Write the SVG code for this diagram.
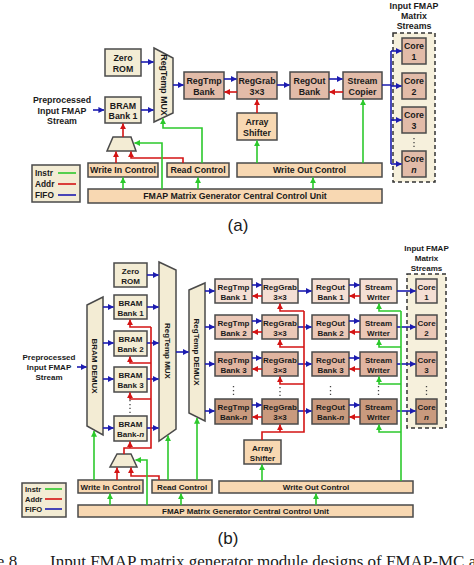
<svg xmlns="http://www.w3.org/2000/svg" width="474" height="565" viewBox="0 0 474 565">
<defs>
<marker id="mb" viewBox="0 0 8 8" refX="7.5" refY="4" markerWidth="6" markerHeight="6" markerUnits="userSpaceOnUse" orient="auto"><path d="M0,0L8,4L0,8z" fill="#1c1cb0"/></marker>
<marker id="mr" viewBox="0 0 8 8" refX="7.5" refY="4" markerWidth="6" markerHeight="6" markerUnits="userSpaceOnUse" orient="auto"><path d="M0,0L8,4L0,8z" fill="#d41414"/></marker>
<marker id="mg" viewBox="0 0 8 8" refX="7.5" refY="4" markerWidth="6" markerHeight="6" markerUnits="userSpaceOnUse" orient="auto"><path d="M0,0L8,4L0,8z" fill="#2cc92c"/></marker>
</defs>
<style>
.bx{stroke:#4a4a4a;stroke-width:1.5}
.be{fill:#f3ecd4}
.pe{fill:#f8d8b2}
.sa{fill:#e2bba8}
.r1{fill:#f4dfd4}.r2{fill:#ebc8b7}.r3{fill:#e0b4a0}.rn{fill:#c99a7e}
text{font-family:"Liberation Sans",Arial,sans-serif;font-weight:bold;fill:#1a1a1a;text-anchor:middle}
.fa{font-size:8.8px}.fb{font-size:8px}
.lg{text-anchor:start}
.cb,.cr,.cg,.lb,.lr,.lgn{fill:none;stroke-width:1.6}
.cb,.lb{stroke:#1c1cb0}.cr,.lr{stroke:#d41414}.cg,.lgn{stroke:#2cc92c}
.cb{marker-end:url(#mb)}.cr{marker-end:url(#mr)}.cg{marker-end:url(#mg)}
.dash{fill:#f6f0dc;stroke:#333;stroke-width:1.5;stroke-dasharray:4 3}
.dots{fill:none;stroke:#444;stroke-width:1.3;stroke-dasharray:1.3 2.6}
.cap{font-family:"Liberation Sans",Arial,sans-serif;font-weight:normal;font-size:17px}
.capt{font-family:"Liberation Serif","Times New Roman",serif;font-weight:normal;font-size:17px;text-anchor:start}
</style>

<!-- ================= (a) ================= -->
<g id="a-streams">
<rect class="dash" x="393" y="33" width="42" height="149"/>
<text class="fa" x="414" y="8.5">Input FMAP</text>
<text class="fa" x="414" y="18.5">Matrix</text>
<text class="fa" x="414" y="29">Streams</text>
</g>
<g id="a-input"><text class="fa" x="62" y="103">Preprocessed</text><text class="fa" x="62" y="113.5">Input FMAP</text><text class="fa" x="62" y="124">Stream</text></g>
<g id="a-zero"><rect class="bx be" x="105" y="49" width="36" height="27"/><text class="fa" x="123" y="61">Zero</text><text class="fa" x="123" y="71.5">ROM</text></g>
<g id="a-bram1"><rect class="bx be" x="105" y="97" width="36" height="26"/><text class="fa" x="123" y="108.5">BRAM</text><text class="fa" x="123" y="119">Bank 1</text></g>
<g id="a-mux"><polygon class="bx be" points="154,48 173,58 173,113 154,122"/><text class="fa" transform="translate(163.5,85) rotate(90)" y="3">RegTemp MUX</text></g>
<g id="a-sel"><polygon class="bx be" points="113,137 131,137 136,151 107,151"/></g>
<g id="a-regtmp"><rect class="bx sa" x="184" y="72" width="40" height="27"/><text class="fa" x="204" y="84">RegTmp</text><text class="fa" x="204" y="94.5">Bank</text></g>
<g id="a-reggrab"><rect class="bx sa" x="237" y="72" width="40" height="27"/><text class="fa" x="257" y="84">RegGrab</text><text class="fa" x="257" y="94.5">3×3</text></g>
<g id="a-regout"><rect class="bx sa" x="290" y="72" width="39" height="27"/><text class="fa" x="309.5" y="84">RegOut</text><text class="fa" x="309.5" y="94.5">Bank</text></g>
<g id="a-copier"><rect class="bx sa" x="343" y="72" width="39" height="27"/><text class="fa" x="362.5" y="84">Stream</text><text class="fa" x="362.5" y="94.5">Copier</text></g>
<g id="a-shifter"><rect class="bx pe" x="237" y="113" width="40" height="27"/><text class="fa" x="257" y="125">Array</text><text class="fa" x="257" y="135.5">Shifter</text></g>
<g id="a-writein"><rect class="bx pe" x="88" y="163" width="70" height="14"/><text class="fa" x="123" y="173.3">Write In Control</text></g>
<g id="a-readctl"><rect class="bx pe" x="167" y="163" width="62" height="14"/><text class="fa" x="198" y="173.3">Read Control</text></g>
<g id="a-writeout"><rect class="bx pe" x="237" y="163" width="145" height="14"/><text class="fa" x="309.5" y="173.3">Write Out Control</text></g>
<g id="a-ccu"><rect class="bx pe" x="88" y="189" width="294" height="14"/><text class="fa" x="235" y="199.3">FMAP Matrix Generator Central Control Unit</text></g>
<g id="a-core1"><rect class="bx sa" x="402" y="38" width="24" height="26"/><text class="fa" x="414" y="49">Core</text><text class="fa" x="414" y="60">1</text></g>
<g id="a-core2"><rect class="bx sa" x="402" y="73" width="24" height="26"/><text class="fa" x="414" y="84">Core</text><text class="fa" x="414" y="95">2</text></g>
<g id="a-core3"><rect class="bx sa" x="402" y="107" width="24" height="26"/><text class="fa" x="414" y="118">Core</text><text class="fa" x="414" y="129">3</text></g>
<g id="a-coren"><rect class="bx sa" x="402" y="151" width="24" height="26"/><text class="fa" x="414" y="162">Core</text><text class="fa" x="414" y="173" font-style="italic">n</text></g>
<path class="dots" d="M414,138V149"/>
<g id="a-legend"><rect class="bx be" x="32" y="165" width="48" height="37"/>
<text class="lg" font-size="8.3" x="35" y="176">Instr</text><text class="lg" font-size="8.3" x="35" y="187">Addr</text><text class="lg" font-size="8.3" x="35" y="198">FIFO</text>
<path class="lgn" d="M58,173H76"/><path class="lr" d="M58,184H76"/><path class="lb" d="M58,195H76"/></g>
<text class="cap" x="238" y="231">(a)</text>

<g id="a-connectors">
<path class="cb" d="M93,110H104"/>
<path class="cb" d="M141,62H153.5"/>
<path class="cb" d="M141,110H153.5"/>
<path class="cb" d="M173,85H183.5"/>
<path class="cb" d="M224,79H236.5"/>
<path class="cb" d="M277,85H289.5"/>
<path class="cb" d="M329,79H342.5"/>
<path class="lb" d="M382,85H391M391,51V164"/>
<path class="cb" d="M391,51H401.5"/>
<path class="cb" d="M391,86H401.5"/>
<path class="cb" d="M391,120H401.5"/>
<path class="cb" d="M391,164H401.5"/>
<path class="cr" d="M237,92H224.5"/>
<path class="cr" d="M343,92H329.5"/>
<path class="cr" d="M257,113V99.5"/>
<path class="cr" d="M123,137V123.5"/>
<path class="cr" d="M116,163V151.5"/>
<path class="cr" d="M183,163V158H131V151.5"/>
<path class="cg" d="M123,189V177.5"/>
<path class="cg" d="M198,189V177.5"/>
<path class="cg" d="M313,189V177.5"/>
<path class="cg" d="M162,189V143H134.5"/>
<path class="cg" d="M202,163V128H163V118.5"/>
<path class="cg" d="M257,163V140.5"/>
<path class="cg" d="M363,163V99.5"/>
</g>

<!-- ================= (b) ================= -->
<g id="b-streams">
<rect class="dash" x="407" y="274" width="39" height="154"/>
<text class="fb" x="426.5" y="251">Input FMAP</text>
<text class="fb" x="426.5" y="261">Matrix</text>
<text class="fb" x="426.5" y="271">Streams</text>
</g>
<g id="b-input"><text class="fb" x="49" y="360">Preprocessed</text><text class="fb" x="49" y="370">Input FMAP</text><text class="fb" x="49" y="379.5">Stream</text></g>
<g id="b-zero"><rect class="bx be" x="114" y="263" width="33" height="24"/><text class="fb" x="130.5" y="273.5">Zero</text><text class="fb" x="130.5" y="283.5">ROM</text></g>
<g id="b-bram1"><rect class="bx be" x="114" y="295" width="33" height="24"/><text class="fb" x="130.5" y="305.5">BRAM</text><text class="fb" x="130.5" y="315.5">Bank 1</text></g>
<g id="b-bram2"><rect class="bx be" x="114" y="331" width="33" height="25"/><text class="fb" x="130.5" y="341.5">BRAM</text><text class="fb" x="130.5" y="351.5">Bank 2</text></g>
<g id="b-bram3"><rect class="bx be" x="114" y="367" width="33" height="25"/><text class="fb" x="130.5" y="377.5">BRAM</text><text class="fb" x="130.5" y="387.5">Bank 3</text></g>
<g id="b-bramn"><rect class="bx be" x="114" y="416" width="33" height="25"/><text class="fb" x="130.5" y="426.5">BRAM</text><text class="fb" x="130.5" y="436.5">Bank-<tspan font-style="italic">n</tspan></text></g>
<path class="dots" d="M130,400V413"/>
<g id="b-bdemux"><polygon class="bx be" points="87,305 103,297 103,435 87,426"/><text class="fb" transform="translate(95,366) rotate(90)" y="3">BRAM DEMUX</text></g>
<g id="b-mux"><polygon class="bx be" points="159,262 176,270 176,429 159,441"/><text class="fb" transform="translate(167.5,351) rotate(90)" y="3">RegTemp MUX</text></g>
<g id="b-rdemux"><polygon class="bx be" points="189,290 205,283 205,421 189,413"/><text class="fb" transform="translate(197,352) rotate(90)" y="3">RegTemp DEMUX</text></g>
<g id="b-sel"><polygon class="bx be" points="117,454 131,454 137,467 110,467"/></g>

<g id="b-row1">
<g id="b-regtmp1"><rect class="bx r1" x="215" y="279" width="37" height="24"/><text class="fb" x="233.5" y="289.5">RegTmp</text><text class="fb" x="233.5" y="299.5">Bank 1</text></g>
<g id="b-reggrab1"><rect class="bx r1" x="262" y="279" width="36" height="24"/><text class="fb" x="280" y="289.5">RegGrab</text><text class="fb" x="280" y="299.5">3×3</text></g>
<g id="b-regout1"><rect class="bx r1" x="312" y="279" width="37" height="24"/><text class="fb" x="330.5" y="289.5">RegOut</text><text class="fb" x="330.5" y="299.5">Bank 1</text></g>
<g id="b-writer1"><rect class="bx r1" x="360" y="279" width="37" height="24"/><text class="fb" x="378.5" y="289.5">Stream</text><text class="fb" x="378.5" y="299.5">Writer</text></g>
<g id="b-core1"><rect class="bx r1" x="416" y="279" width="21" height="24"/><text class="fb" x="426.5" y="289.5">Core</text><text class="fb" x="426.5" y="299.5">1</text></g>
</g>
<g id="b-row2">
<g id="b-regtmp2"><rect class="bx r2" x="215" y="315" width="37" height="24"/><text class="fb" x="233.5" y="325.5">RegTmp</text><text class="fb" x="233.5" y="335.5">Bank 2</text></g>
<g id="b-reggrab2"><rect class="bx r2" x="262" y="315" width="36" height="24"/><text class="fb" x="280" y="325.5">RegGrab</text><text class="fb" x="280" y="335.5">3×3</text></g>
<g id="b-regout2"><rect class="bx r2" x="312" y="315" width="37" height="24"/><text class="fb" x="330.5" y="325.5">RegOut</text><text class="fb" x="330.5" y="335.5">Bank 2</text></g>
<g id="b-writer2"><rect class="bx r2" x="360" y="315" width="37" height="24"/><text class="fb" x="378.5" y="325.5">Stream</text><text class="fb" x="378.5" y="335.5">Writer</text></g>
<g id="b-core2"><rect class="bx r2" x="416" y="315" width="21" height="24"/><text class="fb" x="426.5" y="325.5">Core</text><text class="fb" x="426.5" y="335.5">2</text></g>
</g>
<g id="b-row3">
<g id="b-regtmp3"><rect class="bx r3" x="215" y="352" width="37" height="24"/><text class="fb" x="233.5" y="362.5">RegTmp</text><text class="fb" x="233.5" y="372.5">Bank 3</text></g>
<g id="b-reggrab3"><rect class="bx r3" x="262" y="352" width="36" height="24"/><text class="fb" x="280" y="362.5">RegGrab</text><text class="fb" x="280" y="372.5">3×3</text></g>
<g id="b-regout3"><rect class="bx r3" x="312" y="352" width="37" height="24"/><text class="fb" x="330.5" y="362.5">RegOut</text><text class="fb" x="330.5" y="372.5">Bank 3</text></g>
<g id="b-writer3"><rect class="bx r3" x="360" y="352" width="37" height="24"/><text class="fb" x="378.5" y="362.5">Stream</text><text class="fb" x="378.5" y="372.5">Writer</text></g>
<g id="b-core3"><rect class="bx r3" x="416" y="352" width="21" height="24"/><text class="fb" x="426.5" y="362.5">Core</text><text class="fb" x="426.5" y="372.5">3</text></g>
</g>
<g id="b-rown">
<g id="b-regtmpn"><rect class="bx rn" x="215" y="399" width="37" height="25"/><text class="fb" x="233.5" y="409.5">RegTmp</text><text class="fb" x="233.5" y="419.5">Bank-<tspan font-style="italic">n</tspan></text></g>
<g id="b-reggrabn"><rect class="bx rn" x="262" y="399" width="36" height="25"/><text class="fb" x="280" y="409.5">RegGrab</text><text class="fb" x="280" y="419.5">3×3</text></g>
<g id="b-regoutn"><rect class="bx rn" x="312" y="399" width="37" height="25"/><text class="fb" x="330.5" y="409.5">RegOut</text><text class="fb" x="330.5" y="419.5">Bank-<tspan font-style="italic">n</tspan></text></g>
<g id="b-writern"><rect class="bx rn" x="360" y="399" width="37" height="25"/><text class="fb" x="378.5" y="409.5">Stream</text><text class="fb" x="378.5" y="419.5">Writer</text></g>
<g id="b-coren"><rect class="bx rn" x="416" y="399" width="21" height="25"/><text class="fb" x="426.5" y="409.5">Core</text><text class="fb" x="426.5" y="419.5" font-style="italic">n</text></g>
</g>
<path class="dots" d="M233.5,386V397M280,387V397M330.5,386V397M378.5,386V397M426.5,386V397"/>

<g id="b-shifter"><rect class="bx pe" x="244" y="440" width="37" height="24"/><text class="fb" x="262.5" y="450.5">Array</text><text class="fb" x="262.5" y="460.5">Shifter</text></g>
<g id="b-writein"><rect class="bx pe" x="78" y="480" width="65" height="13"/><text class="fb" x="110.5" y="489.5">Write In Control</text></g>
<g id="b-readctl"><rect class="bx pe" x="152" y="480" width="60" height="13"/><text class="fb" x="182" y="489.5">Read Control</text></g>
<g id="b-writeout"><rect class="bx pe" x="219" y="481" width="194" height="12"/><text class="fb" x="316" y="490">Write Out Control</text></g>
<g id="b-ccu"><rect class="bx pe" x="78" y="505" width="335" height="12"/><text class="fb" x="245.5" y="514">FMAP Matrix Generator Central Control Unit</text></g>
<g id="b-legend"><rect class="bx be" x="22" y="483" width="44" height="34"/>
<text class="lg" font-size="7.5" x="25" y="492">Instr</text><text class="lg" font-size="7.5" x="25" y="502">Addr</text><text class="lg" font-size="7.5" x="25" y="512">FIFO</text>
<path class="lgn" d="M45,489H62"/><path class="lr" d="M45,499H62"/><path class="lb" d="M45,509H62"/></g>
<text class="cap" x="228" y="544">(b)</text>

<g id="b-connectors">
<path class="cb" d="M77,367H86.5"/>
<path class="cb" d="M103,307H113.5"/><path class="cb" d="M103,343H113.5"/><path class="cb" d="M103,379H113.5"/><path class="cb" d="M103,428H113.5"/>
<path class="cb" d="M147,275H158.5"/>
<path class="cb" d="M147,307H158.5"/><path class="cb" d="M147,343H158.5"/><path class="cb" d="M147,379H158.5"/><path class="cb" d="M147,428H158.5"/>
<path class="cb" d="M176,352H188.5"/>
<!-- row 1 -->
<path class="cb" d="M205,291H214.5"/><path class="cb" d="M252,285H261.5"/><path class="cr" d="M262,296H252.5"/>
<path class="cb" d="M298,291H311.5"/><path class="cb" d="M349,285H359.5"/><path class="cr" d="M360,296H349.5"/>
<path class="cb" d="M397,291H415.5"/>
<!-- row 2 -->
<path class="cb" d="M205,327H214.5"/><path class="cb" d="M252,321H261.5"/><path class="cr" d="M262,332H252.5"/>
<path class="cb" d="M298,327H311.5"/><path class="cb" d="M349,321H359.5"/><path class="cr" d="M360,332H349.5"/>
<path class="cb" d="M397,327H415.5"/>
<!-- row 3 -->
<path class="cb" d="M205,364H214.5"/><path class="cb" d="M252,358H261.5"/><path class="cr" d="M262,369H252.5"/>
<path class="cb" d="M298,364H311.5"/><path class="cb" d="M349,358H359.5"/><path class="cr" d="M360,369H349.5"/>
<path class="cb" d="M397,364H415.5"/>
<!-- row n -->
<path class="cb" d="M205,411H214.5"/><path class="cb" d="M252,405H261.5"/><path class="cr" d="M262,417H252.5"/>
<path class="cb" d="M298,411H311.5"/><path class="cb" d="M349,405H359.5"/><path class="cr" d="M360,417H349.5"/>
<path class="cb" d="M397,411H415.5"/>
<!-- red address -->
<path class="lr" d="M262,440V432H304V311"/>
<path class="cr" d="M304,311H280V303.5"/><path class="cr" d="M304,347H280V339.5"/><path class="cr" d="M304,384H280V376.5"/><path class="cr" d="M280,432V424.5"/>
<path class="lr" d="M124,454V448H151V327"/>
<path class="cr" d="M151,327H130V319.5"/><path class="cr" d="M151,363H130V356.5"/><path class="cr" d="M151,399H130V392.5"/><path class="cr" d="M130,448V441.5"/>
<path class="cr" d="M117,480V467.5"/>
<path class="cr" d="M159,480V476H131V467.5"/>
<!-- green instr -->
<path class="cg" d="M110,505V493.5"/><path class="cg" d="M181,505V493.5"/><path class="cg" d="M316,505V493.5"/>
<path class="cg" d="M147,505V460H135.5"/>
<path class="cg" d="M94,480V431"/>
<path class="cg" d="M168,480V435.5"/>
<path class="cg" d="M197,480V418"/>
<path class="cg" d="M262,481V464.5"/>
<path class="lgn" d="M401,481V311"/>
<path class="cg" d="M401,311H379V303.5"/><path class="cg" d="M401,347H379V339.5"/><path class="cg" d="M401,384H379V376.5"/><path class="cg" d="M401,432H379V424.5"/>
</g>

<g id="caption">
<text class="capt" x="-40" y="567">Figure 8.</text>
<text class="capt" x="50" y="567">Input FMAP matrix generator module designs of FMAP-MC and</text>
</g>
</svg>
